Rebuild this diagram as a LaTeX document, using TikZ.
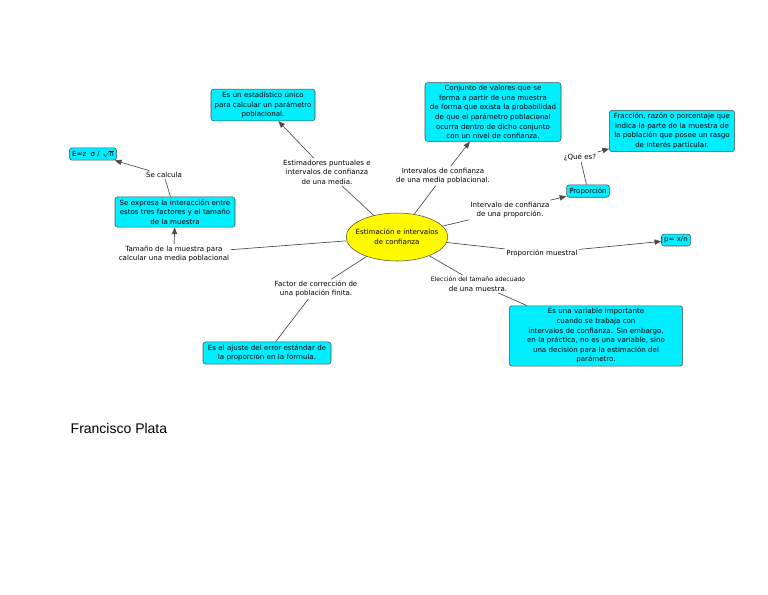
\documentclass[tikz,border=0pt]{standalone}
\usepackage{fontspec}
\setmainfont{DejaVu Sans}
\newfontfamily\arialf{Liberation Sans}
\usetikzlibrary{arrows.meta,shapes.geometric}
\definecolor{cy}{RGB}{0,238,255}
\definecolor{yl}{RGB}{255,250,0}
\begin{document}
\begin{tikzpicture}[x=0.75pt,y=-0.75pt,
  box/.style={draw=black!70,fill=cy,rounded corners=2pt,align=center,font=\fontsize{5.3}{7.2}\selectfont,inner sep=2pt},
  lab/.style={align=center,font=\fontsize{5.3}{7.2}\selectfont,fill=white,inner sep=1pt},
  ln/.style={draw=black!70,line width=0.5pt},
  ar/.style={ln,-{Triangle[length=5pt,width=4pt]}}]
\useasboundingbox (0,0) rectangle (768,594);
\node[ellipse,draw=black!70,fill=yl,minimum width=73pt,minimum height=36pt,inner sep=-4pt,align=center,font=\fontsize{5.3}{7.2}\selectfont] (c) at (397,237) {Estimación e intervalos\\de confianza};
\node[box,text width=74pt] (a) at (263,105) {Es un estadístico único\\para calcular un parámetro\\poblacional.};
\node[lab] (la) at (327,172) {Estimadores puntuales e\\intervalos de confianza\\de una media.};
\node[box,text width=98pt] (b) at (493,112) {Conjunto de valores que se\\forma a partir de una muestra\\de forma que exista la probabilidad\\de que el parámetro poblacional\\ocurra dentro de dicho conjunto\\con un nivel de confianza.};
\node[lab] (lb) at (443,176) {Intervalos de confianza\\de una media poblacional.};
\node[box] (p) at (588,191) {Proporción};
\node[lab] (lp) at (510,210) {Intervalo de confianza\\de una proporción.};
\node[lab] (q) at (580,157) {¿Qué es?};
\node[box,text width=90pt] (f) at (672,131) {Fracción, razón o porcentaje que\\indica la parte de la muestra de\\la población que posee un rasgo\\de interés particular.};
\node[box] (pn) at (676,240) {p= x/n};
\node[lab] (lpm) at (542,253) {Proporción muestral};
\node[lab] (le) at (478,284) {{\fontsize{4.6}{6}\selectfont Elección del tamaño adecuado}\\de una muestra.};
\node[box,text width=126pt] (v) at (596,336) {Es una variable importante\\cuando se trabaja con\\intervalos de confianza. Sin embargo,\\en la práctica, no es una variable, sino\\una decisión para la estimación del\\parámetro.};
\node[lab] (lf) at (316,289) {Factor de corrección de\\una población finita.};
\node[box,text width=92pt] (aj) at (267,353) {Es el ajuste del error estándar de\\la proporción en la formula.};
\node[lab] (lt) at (174,254) {Tamaño de la muestra para\\calcular una media poblacional};
\node[box,text width=86pt] (s) at (175,212) {Se expresa la interacción entre\\estos tres factores y el tamaño\\de la muestra};
\node[lab] (ls) at (164,175) {Se calcula};
\node[box] (e) at (93,154) {E=z\ \ σ / $\sqrt{\mathrm{n}}$};
\node[anchor=west,font=\arialf\fontsize{10.5}{12}\selectfont] (fp) at (66,428) {Francisco Plata};
\draw[ln] (c) -- (la); \draw[ar] (la) -- (a);
\draw[ln] (c) -- (lb); \draw[ar] (lb) -- (b);
\draw[ln] (c) -- (lp); \draw[ar] (lp) -- (p);
\draw[ln] (p) -- (q); \draw[ar] (q) -- (f);
\draw[ln] (c) -- (lpm); \draw[ar] (lpm) -- (pn);
\draw[ln] (c) -- (le); \draw[ln] (le) -- (v);
\draw[ln] (c) -- (lf); \draw[ln] (lf) -- (aj);
\draw[ln] (c) -- (lt); \draw[ar] (lt) -- (s);
\draw[ln] (s) -- (ls); \draw[ar] (ls) -- (e);
\end{tikzpicture}
\end{document}
